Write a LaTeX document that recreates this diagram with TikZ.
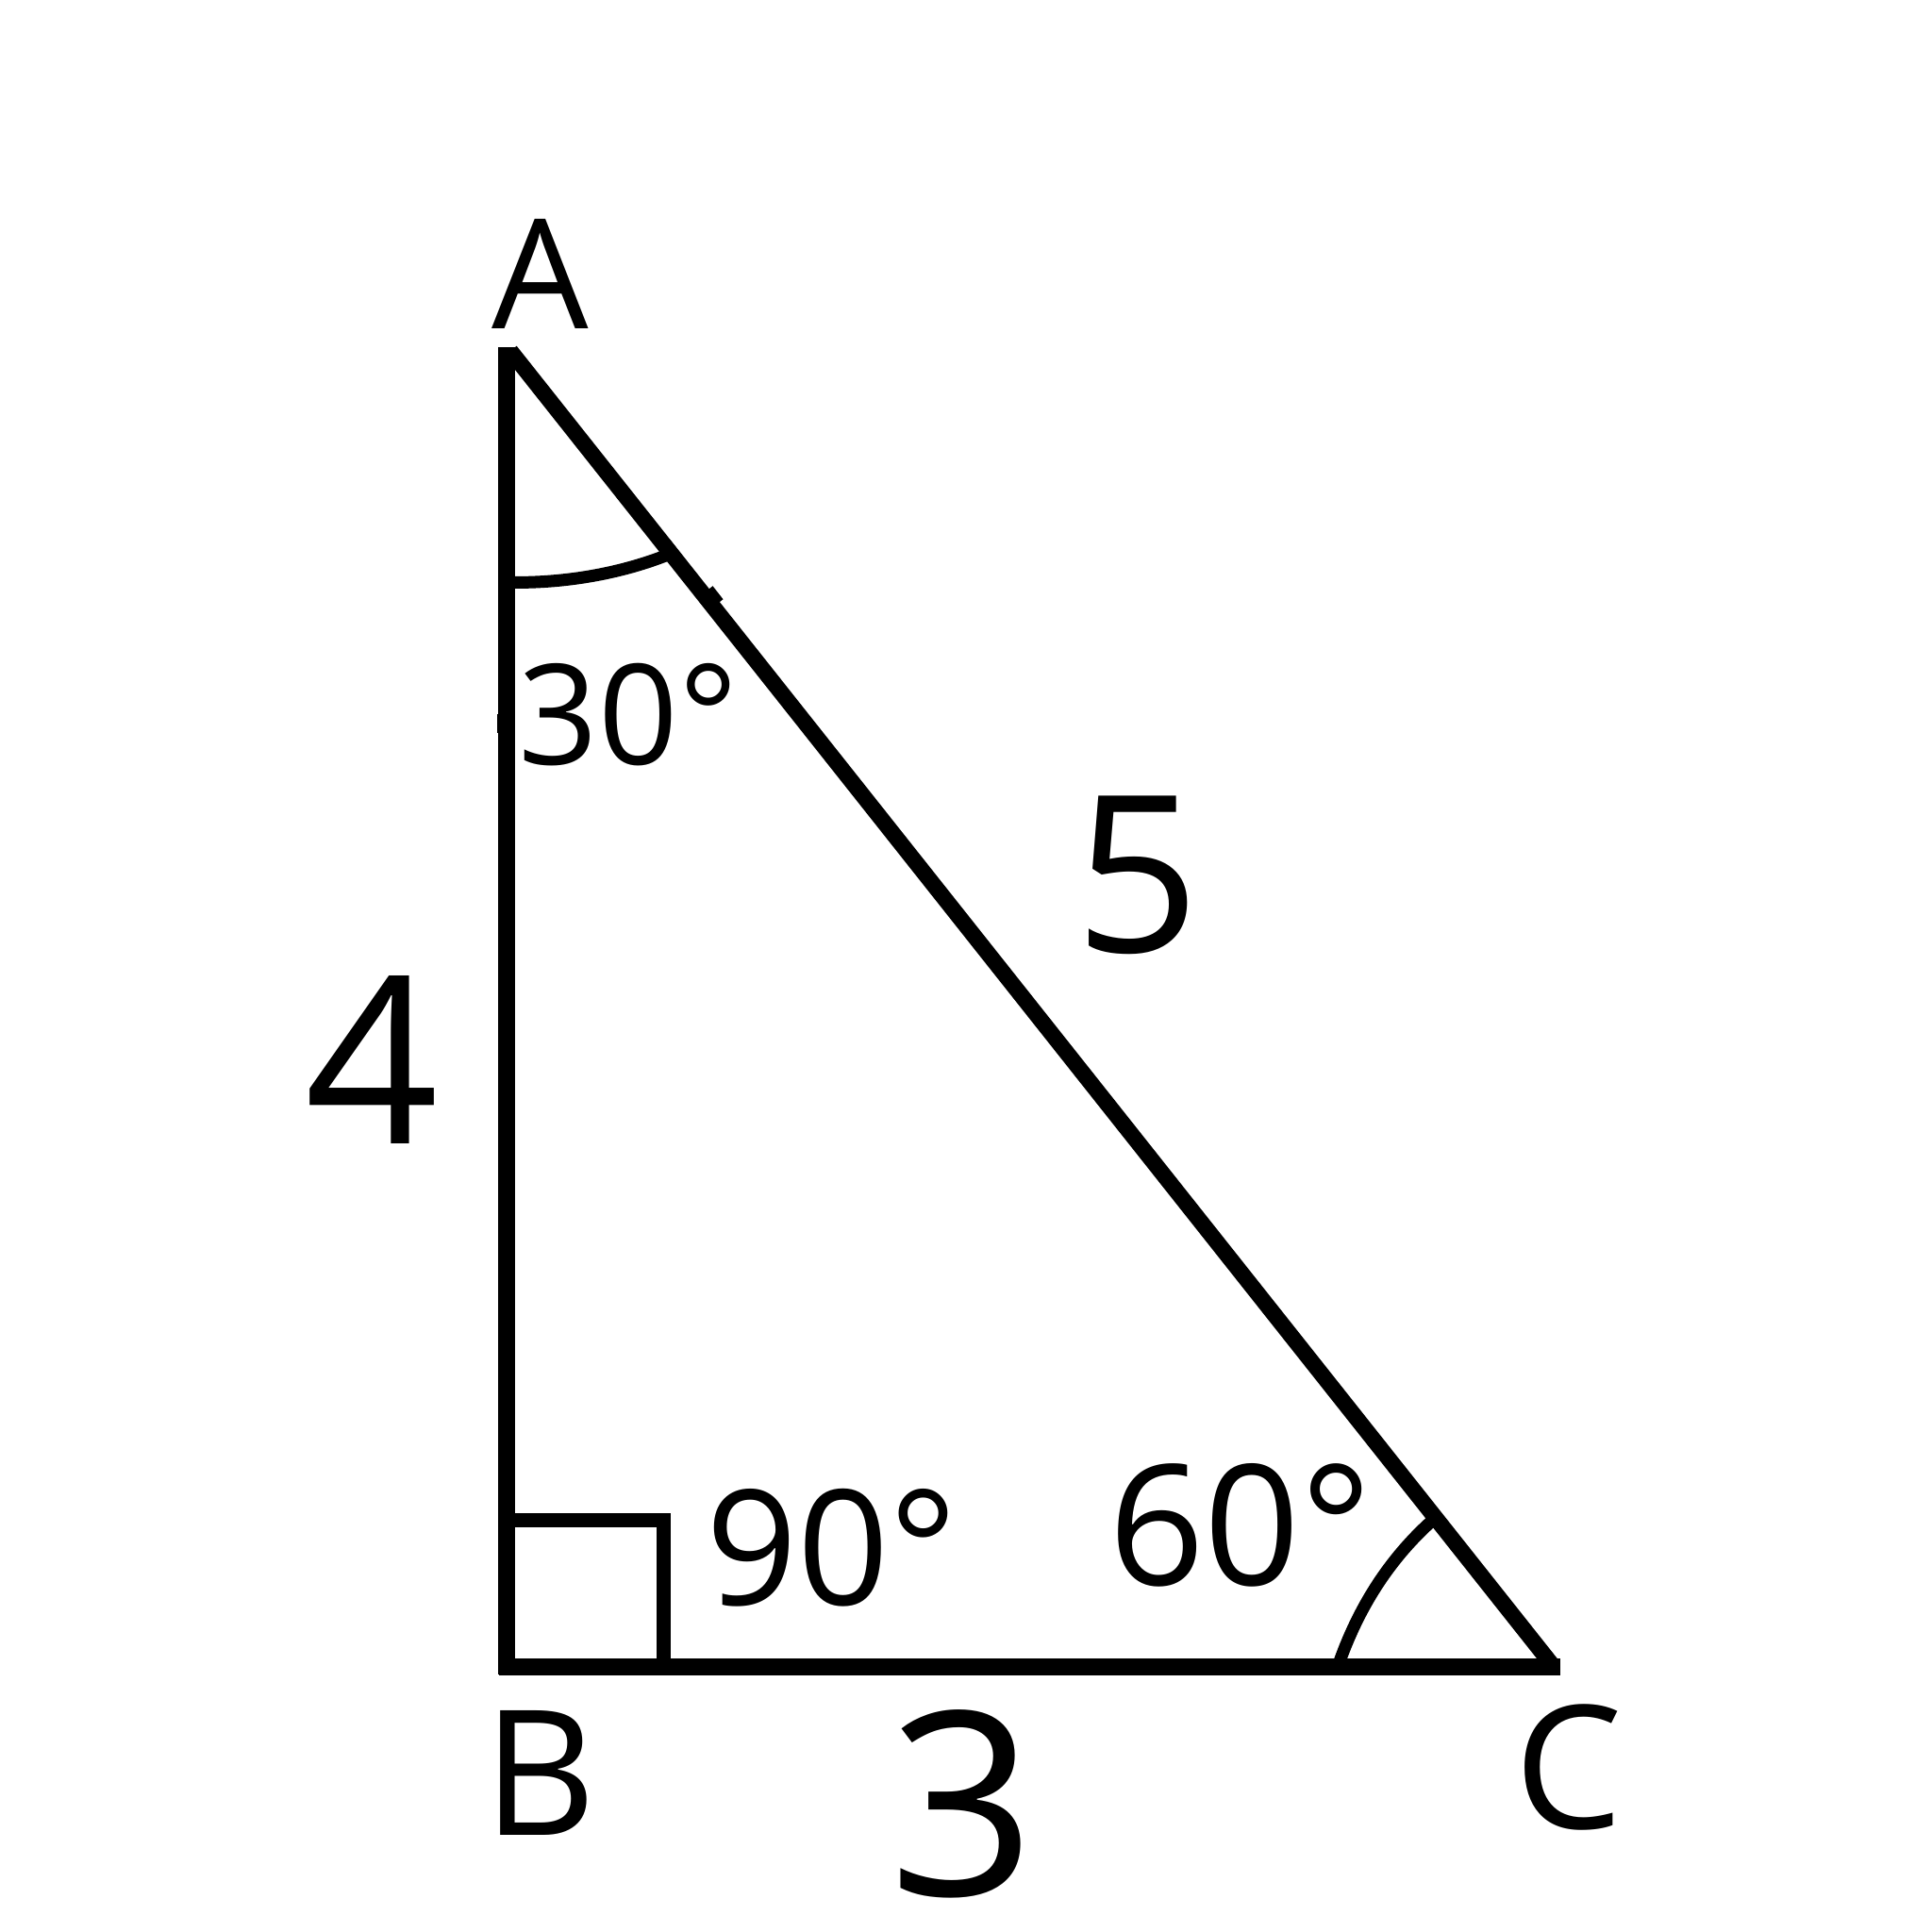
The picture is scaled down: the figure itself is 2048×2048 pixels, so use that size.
\documentclass[tikz,border=0pt]{standalone}
\usepackage{fontspec}
\setmainfont{Open Sans}
\newcommand{\fsz}[1]{\fontsize{#1}{#1}\selectfont}
\tikzset{
  side/.style={line width=18pt, line cap=butt},
  hyp/.style={line width=17pt, line cap=butt},
  anglemark/.style={line width=13pt, line cap=butt},
  sqmark/.style={line width=15pt, line cap=butt, line join=miter},
  tick/.style={line width=9pt, line cap=butt},
  lbl/.style={inner sep=0pt, outer sep=0pt, anchor=base, text=black, text depth=0pt},
}
\begin{document}
\begin{tikzpicture}[x=1pt, y=-1pt]
\useasboundingbox (0,0) rectangle (2048,2048);
\fill[white] (0,0) rectangle (2048,2048);
% vertices
\coordinate (vA) at (537,368);
\coordinate (vAh) at (541,372);
\coordinate (vB) at (537,1775);
\coordinate (vBl) at (529,1767);
\coordinate (vC) at (1654,1767);
\coordinate (vCh) at (1647,1767);
% sides
\draw[side] (vA) -- (vB);
\draw[side] (vBl) -- (vC);
\draw[hyp] (vAh) -- (vCh);
% right angle square
\coordinate (sq1) at (537,1611);
\coordinate (sq2) at (703,1611);
\coordinate (sq3) at (703,1767);
\draw[sqmark] (sq1) -- (sq2) -- (sq3);
% angle arc at A
\coordinate (aA1) at (529,617);
\coordinate (aA2) at (713,586);
\draw[anglemark] (aA1) .. controls (600,620) and (665,606) .. (aA2);
% angle arc at C
\coordinate (aC1) at (1418,1767);
\coordinate (aC2) at (1518,1612);
\draw[anglemark] (aC1) .. controls (1442,1697) and (1478,1648) .. (aC2);
% small ticks
\coordinate (t1a) at (706,574); \coordinate (t1b) at (724,597);
\draw[tick] (t1a) -- (t1b);
\coordinate (t2a) at (752,624); \coordinate (t2b) at (763,638);
\draw[tick] (t2a) -- (t2b);
\coordinate (t3a) at (531,757); \coordinate (t3b) at (531,777);
\draw[tick] (t3a) -- (t3b);
\coordinate (t4a) at (1511,1597); \coordinate (t4b) at (1525,1615);
\draw[tick] (t4a) -- (t4b);
% labels
\node[lbl] (A) at (573,348) {\fsz{162}A};
\node[lbl] (B) at (572,1945) {\fsz{185}B};
\node[lbl] (C) at (1663,1938) {\fsz{182}C};
\node[lbl] (s4) at (394,1212) {\fsz{248}4};
\node[lbl] (s5) at (1206,1009) {\fsz{232}5};
\node[lbl] (s3) at (1020,2009) {\fsz{272}3};
\node[lbl] (a30) at (666,810) {\fsz{148}30°};
\node[lbl] (a90) at (882,1701) {\fsz{170}90°};
\node[lbl] (a60) at (1315,1680) {\fsz{178}60°};
\end{tikzpicture}
\end{document}
